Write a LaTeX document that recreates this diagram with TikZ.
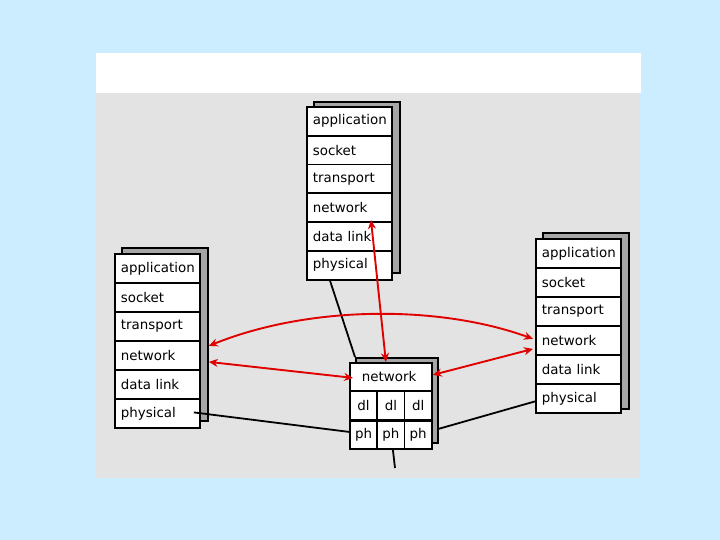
\documentclass[tikz,border=0pt]{standalone}
\usepackage{fontspec}
\newfontfamily\labfont{DejaVu Sans}
\usetikzlibrary{arrows.meta,calc}
\definecolor{bgblue}{HTML}{CCECFF}
\definecolor{panelgray}{HTML}{E3E3E3}
\definecolor{shadegray}{HTML}{A6A6A6}
\definecolor{linkred}{HTML}{E00000}
\begin{document}
\begin{tikzpicture}[x=1pt,y=-1pt,
  layerbox/.style={draw=black, line width=1.8pt, fill=white, anchor=north west,
    minimum width=85pt, minimum height=29pt, text width=73pt, inner xsep=6pt,
    inner ysep=0pt, align=left, font=\labfont\fontsize{13.4}{14}\selectfont},
  shadowbox/.style={draw=black, line width=1.8pt, fill=shadegray, anchor=north west, inner sep=0pt},
  cellbox/.style={draw=black, line width=1.8pt, fill=white, anchor=north west, inner sep=0pt,
    minimum width=27.33pt, font=\labfont\fontsize{13.4}{14}\selectfont},
  wire/.style={draw=black, line width=1.8pt},
  msg/.style={draw=linkred, line width=1.9pt,
    {Stealth[length=9pt,width=8pt]}-{Stealth[length=9pt,width=8pt]}}
]
% background
\fill[bgblue] (0,0) rectangle (720,540);
\fill[white] (96,53) rectangle (641,93);
\fill[panelgray] (96,93) rectangle (640,478);
\useasboundingbox (0,0) rectangle (720,540);

% top stack
\node[shadowbox, minimum width=86pt, minimum height=171pt] (Tsh) at (313,101) {};
\node[layerbox, minimum height=28.8pt] (T1) at (306,106) {application};
\node[layerbox, minimum height=28.8pt] (T2) at (306,134.8) {socket};
\node[layerbox, minimum height=28.8pt] (T3) at (306,163.6) {transport};
\node[layerbox, minimum height=28.8pt] (T4) at (306,192.4) {network};
\node[layerbox, minimum height=28.8pt] (T5) at (306,221.2) {data link};
\node[layerbox, minimum height=28.8pt] (T6) at (306,250) {physical};

% left stack
\node[shadowbox, minimum width=86pt, minimum height=173pt] (Lsh) at (121,247) {};
\node[layerbox] (L1) at (114,253) {application};
\node[layerbox] (L2) at (114,282) {socket};
\node[layerbox] (L3) at (114,311) {transport};
\node[layerbox] (L4) at (114,340) {network};
\node[layerbox] (L5) at (114,369) {data link};
\node[layerbox] (L6) at (114,398) {physical};

% right stack
\node[shadowbox, minimum width=86pt, minimum height=176pt] (Rsh2) at (542,232) {};
\node[layerbox] (R1) at (535,238) {application};
\node[layerbox] (R2) at (535,267) {socket};
\node[layerbox] (R3) at (535,296) {transport};
\node[layerbox] (R4) at (535,325) {network};
\node[layerbox] (R5) at (535,354) {data link};
\node[layerbox] (R6) at (535,383) {physical};

% router
\node[shadowbox, minimum width=82pt, minimum height=85pt] (Rsh) at (355,357) {};
\node[layerbox, minimum width=82pt, inner xsep=12pt, text width=58pt, minimum height=28pt] (Rnet) at (349,362) {network};
\node[cellbox, minimum height=30pt] (Rd1) at (349,390) {dl};
\node[cellbox, minimum height=30pt] (Rd2) at (376.33,390) {dl};
\node[cellbox, minimum height=30pt] (Rd3) at (403.67,390) {dl};
\node[cellbox, minimum height=28pt] (Rp1) at (349,420) {ph};
\node[cellbox, minimum height=28pt] (Rp2) at (376.33,420) {ph};
\node[cellbox, minimum height=28pt] (Rp3) at (403.67,420) {ph};
\draw[line width=2.8pt] (Rp1.north west) -- (Rp3.north east);

% physical wires
\coordinate (drop) at (395,468);
\draw[wire] ($(T6.south west)+(24,0)$) -- (Rsh.north west);
\draw[wire] ($(L6.east)+(-7,-1)$) -- ($(Rp1.west)+(0,-3)$);
\draw[wire] ($(Rsh.south east)+(0,-15)$) -- ($(R6.west)+(0,3)$);
\draw[wire] ($(Rp2.south)+(2,0)$) -- (drop);

% logical links
\draw[msg] ($(T4.south west)+(65,-3)$) -- ($(Rnet.north)+(-5,0)$);
\draw[msg] ($(L4.east)+(8,-9.5)$) .. controls (310,305) and (440,305) .. ($(R4.west)+(-2,-1.5)$);
\draw[msg] ($(L4.east)+(8,6.5)$) -- ($(Rnet.west)+(4,1)$);
\draw[msg] ($(Rnet.east)+(0,-2)$) -- ($(R4.west)+(-2,8.5)$);
\end{tikzpicture}
\end{document}
